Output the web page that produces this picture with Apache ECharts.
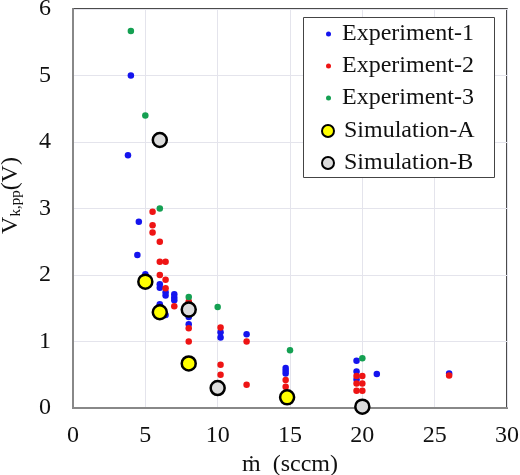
<!DOCTYPE html>
<html>
<head>
<meta charset="utf-8">
<script src="https://cdn.jsdelivr.net/npm/echarts@6/dist/echarts.min.js"></script>
<style>
  html, body { margin: 0; padding: 0; background: #fff; }
  #main { width: 520px; height: 475px; }
</style>
</head>
<body>
<div id="main"></div>
<script>
// values: [mass flow (sccm), V_k,pp (V)]
var experiment1 = [
  [4, 5.0], [3.8, 3.8], [4.55, 2.8], [4.45, 2.3], [5, 2.01], [6, 1.86], [6, 1.81],
  [6.4, 1.74], [6.4, 1.69], [7, 1.71], [7, 1.66], [7, 1.62], [6, 1.56], [6.4, 1.40],
  [8, 1.37], [8, 1.26], [10.2, 1.14], [10.2, 1.06], [12, 1.11], [14.7, 0.60],
  [14.7, 0.56], [14.7, 0.52], [19.6, 0.71], [19.6, 0.55], [19.6, 0.43], [21, 0.51],
  [26, 0.52]
];
var experiment2 = [
  [5.5, 2.95], [5.5, 2.75], [5.5, 2.64], [6, 2.5], [6, 2.2], [6.4, 2.2], [6, 2.0],
  [6.4, 1.93], [6.4, 1.80], [7, 1.53], [8, 1.60], [8, 1.20], [8, 1.0], [10.2, 1.21],
  [10.2, 0.65], [10.2, 0.50], [12, 1.0], [12, 0.35], [14.7, 0.42], [14.7, 0.32],
  [19.6, 0.48], [19.6, 0.37], [19.6, 0.26], [20, 0.48], [20, 0.37], [20, 0.26],
  [26, 0.49]
];
var experiment3 = [
  [4, 5.67], [5, 4.4], [6, 3.0], [8, 1.67], [10, 1.52], [15, 0.87], [20, 0.75]
];
var simulationA = [[5, 1.9], [6, 1.44], [8, 0.67], [14.8, 0.16]];
var simulationB = [[6, 4.03], [8, 1.48], [10, 0.3], [20, 0.02]];

var xTicks = [0, 30, 5];   // min, max, step
var yTicks = [0, 6, 1];

var serif = '"Liberation Serif", "Times New Roman", serif';
var chart = echarts.init(document.getElementById('main'), null, { renderer: 'canvas' });

var expDot = function (name, data, color) {
  return {
    name: name, type: 'scatter', data: data, symbol: 'circle', symbolSize: 6.5,
    itemStyle: { color: color, opacity: 1 }, clip: false, z: 3
  };
};
var simDot = function (name, data, fill) {
  return {
    name: name, type: 'scatter', data: data, symbol: 'circle', symbolSize: 14,
    itemStyle: { color: fill, borderColor: '#000', borderWidth: 2.5, opacity: 1 },
    clip: false, z: 4
  };
};

var option = {
  backgroundColor: '#ffffff',
  animation: false,
  grid: {
    left: 73, top: 9, width: 434, height: 399,
    outerBoundsMode: 'none', containLabel: false,
    show: true, borderColor: '#111', borderWidth: 1.5, backgroundColor: '#fff'
  },
  xAxis: {
    type: 'value', min: xTicks[0], max: xTicks[1], interval: xTicks[2],
    name: 'ṁ  (sccm)', nameLocation: 'middle', nameGap: 44,
    nameTextStyle: { fontFamily: serif, fontSize: 24, color: '#111' },
    axisLine: { show: true, lineStyle: { color: '#888', width: 2 } },
    axisTick: { show: false },
    axisLabel: { fontFamily: serif, fontSize: 24, color: '#111', margin: 16 },
    splitLine: { show: true, lineStyle: { color: '#e4e4ec', width: 1 } }
  },
  yAxis: {
    type: 'value', min: yTicks[0], max: yTicks[1], interval: yTicks[2],
    name: '{v|V}{s|k,pp}{v|(V)}', nameLocation: 'middle', nameGap: 47, nameRotate: 90,
    nameTextStyle: {
      padding: [0, 0, 0, 26],
      rich: {
        v: { fontFamily: serif, fontSize: 24, color: '#111', lineHeight: 30 },
        s: { fontFamily: serif, fontSize: 15, color: '#111', lineHeight: 30, padding: [10, 0, 0, 0] }
      }
    },
    axisLine: { show: true, lineStyle: { color: '#888', width: 2 } },
    axisTick: { show: false },
    axisLabel: { fontFamily: serif, fontSize: 24, color: '#111', margin: 22 },
    splitLine: { show: true, lineStyle: { color: '#e4e4ec', width: 1 } }
  },
  legend: [{
    data: ['Experiment-1', 'Experiment-2', 'Experiment-3'],
    orient: 'vertical', left: 321, top: 17, itemWidth: 5, itemHeight: 5, itemGap: 8,
    icon: 'circle',
    textStyle: { fontFamily: serif, fontSize: 24, color: '#111', lineHeight: 24, padding: [0, 0, 0, 6] }
  }, {
    data: ['Simulation-A', 'Simulation-B'],
    orient: 'vertical', left: 316, top: 114, itemWidth: 12, itemHeight: 12, itemGap: 8,
    icon: 'circle',
    textStyle: { fontFamily: serif, fontSize: 24, color: '#111', lineHeight: 24, padding: [0, 0, 0, 5] }
  }],
  graphic: [{
    type: 'rect', left: 303, top: 17, z: 1,
    shape: { width: 191, height: 160 },
    style: { fill: '#fff', stroke: '#444', lineWidth: 1 }
  }],
  series: [
    expDot('Experiment-1', experiment1, '#1414ee'),
    expDot('Experiment-2', experiment2, '#ee1414'),
    expDot('Experiment-3', experiment3, '#14a052'),
    simDot('Simulation-A', simulationA, '#ffff00'),
    simDot('Simulation-B', simulationB, '#dcdcdc')
  ]
};

chart.setOption(option);
</script>
</body>
</html>
